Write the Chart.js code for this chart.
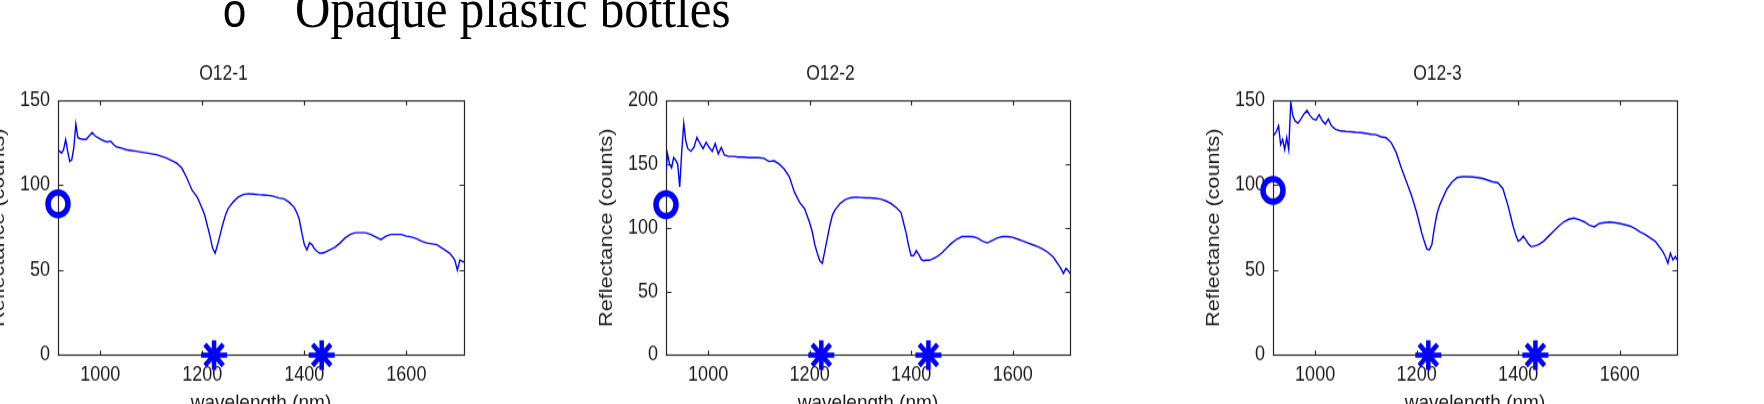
<!DOCTYPE html>
<html>
<head>
<title>Opaque plastic bottles</title>
<script src="https://cdn.jsdelivr.net/npm/chart.js"></script>
<style>
html, body { margin: 0; padding: 0; background: #fff; overflow: hidden; width: 1764px; height: 404px; }
#page { position: absolute; left: 0; top: 0; width: 1764px; height: 380px; transform: scaleY(1.14); transform-origin: 0 0; }
.heading { position: absolute; top: -18px; left: 295px; font-family: "Liberation Serif", serif; font-size: 49px; line-height: 52px; color: #000; white-space: nowrap; }
.bullet { position: absolute; top: -12.6px; left: 222px; font-family: "Liberation Mono", monospace; font-size: 42px; line-height: 52px; color: #000; }
canvas { position: absolute; top: 36px; }
</style>
</head>
<body>
<div id="page">
  <span class="bullet">o</span>
  <span class="heading">Opaque plastic bottles</span>
  <canvas id="c1" width="506" height="340" style="left:-17px"></canvas>
  <canvas id="c2" width="506" height="340" style="left:591px"></canvas>
  <canvas id="c3" width="506" height="340" style="left:1198px"></canvas>
</div>

<script>
// wavelength grid (nm) shared by the three spectra
const wavelength = [
  917,920,924,928,932,936,940,944,948,952,956,960,
  966,972,978,984,990,996,1002,1008,1014,1020,1026,1032,
  1040,
  1050,1060,1070,1080,1090,1100,1110,1120,1130,1140,1150,1160,1170,1180,1190,1200,
  1205,1210,1215,1220,1225,1230,1235,1240,1245,1250,
  1260,1270,1280,1290,1300,1310,1320,1330,1340,1350,1360,1370,1380,
  1385,1390,1395,1400,1405,1410,1415,1420,1425,1430,1435,1440,
  1450,1460,1470,1480,1490,1500,1510,1520,1530,1540,1550,1560,1570,1580,1590,1600,1610,1620,1630,1640,1650,1660,1670,1680,
  1685,1690,1695,1700,1705,1710,1713
];

const o12_1 = [
  121,120,119,121,127,120,114,115,122,136,128,127.5,
  127,127,129,131,129,128,127,126,125.5,126,124,122.5,
  122,
  121,120.5,120,119.5,119,118.5,118,117,116,114.5,113,110,104,97,93,86,
  82,76,70,63,60,65,71,77,82,86,
  90,93,94.5,95,94.8,94.5,94.3,94,93.5,92.5,92,90,87,
  84,80,72,65,62,66,65,62.5,61,60,60,60.5,
  62,63.5,66,69,71,72,72,72,71,69.5,68,70,71,71,71,70,69.5,68.5,67,66,65.5,65,63,61,
  60,58,56,50,56,55,55
];

const o12_2 = [
  145,158,150,147,155,153,150,132,160,182,168,162,
  160,163,171,166,162,167,163,160,166,158,163,157,
  156,
  156,155.5,155.5,155,155,155,154.5,152,152.5,150,146,140,128,120,115,104,
  97,87,80,74,72,82,92,102,110,114,
  119,122,123.5,124,123.8,123.5,123.5,123,122.5,121,119,116,112,
  104,96,86,78,78,82,79,75,74,74.5,74.5,75,
  77,80,84,88,91,93,93,93,92,89.5,88,90,92,93,93,92.5,91,89.5,88,86.5,85,83,80.5,77,
  74,71,68,64,68,66,64
];

const o12_3 = [
  129,130,132,135,124,127,121,128,121,149,141,138,
  136.5,139,142,144,141,139,138.5,141.5,138,136,139,135,
  133,
  132,131.7,131.5,131.2,131,130.5,130,129.8,128.5,128,125,119,110,102,94,84,
  78,72,67,62.5,62,65,75,83,88,91.5,
  98,102,104.5,105,105,104.8,104.5,104,103,102,101.5,98,88,
  82,76,71,67,68,70,68,65.5,64,64,64.5,65,
  67,70,73,76,78.5,80,80.7,79.7,78.5,76.5,75.5,77.5,78,78.3,78,77.5,76.8,76,74.5,72.5,71,69,67,63,
  61,58,54,60,56,58,56
];

const panelTitles = ['O12-1', 'O12-2', 'O12-3'];
const circleLevels = [89, 118, 97];       // 'o' marker at the first wavelength
const starWavelengths = [1223, 1434];     // '*' markers on the zero line
const yMaxes = [150, 200, 150];
const xTickValues = [1000, 1200, 1400, 1600];
const xMin = 917, xMax = 1713;

const BLUE = '#0000ff';
const INK = '#1a1a1a';
const SANS = "'Liberation Sans', Arial, sans-serif";

// matlab style box with inward ticks
const matlabBox = {
  id: 'matlabBox',
  beforeDatasetsDraw(chart) {
    const {ctx, chartArea: a, scales: {x, y}} = chart;
    const L = Math.round(a.left) + 0.5, R = Math.round(a.right) + 0.5;
    const T = Math.round(a.top) + 0.5, B = Math.round(a.bottom) + 0.5;
    ctx.save();
    ctx.strokeStyle = '#262626';
    ctx.lineWidth = 1.2;
    ctx.strokeRect(L, T, R - L, B - T);
    ctx.beginPath();
    x.ticks.forEach(t => {
      const px = Math.round(x.getPixelForValue(t.value)) + 0.5;
      ctx.moveTo(px, B); ctx.lineTo(px, B - 4);
      ctx.moveTo(px, T); ctx.lineTo(px, T + 4);
    });
    y.ticks.forEach(t => {
      const py = Math.round(y.getPixelForValue(t.value)) + 0.5;
      ctx.moveTo(L, py); ctx.lineTo(L + 5, py);
      ctx.moveTo(R, py); ctx.lineTo(R - 5, py);
    });
    ctx.stroke();
    ctx.restore();
  }
};

function makePanel(id, i, values, padRight) {
  const spectrum = wavelength.map((w, k) => ({x: w, y: values[k]}));
  new Chart(document.getElementById(id), {
    type: 'line',
    data: {
      datasets: [
        {data: spectrum, borderColor: BLUE, borderWidth: 1.4, pointRadius: 0, tension: 0},
        {data: [{x: xMin, y: circleLevels[i]}], showLine: false, pointStyle: 'circle',
         pointRadius: 10, borderWidth: 5.5, borderColor: BLUE, backgroundColor: 'rgba(0,0,0,0)', clip: false},
        {data: starWavelengths.map(w => ({x: w, y: 0})), showLine: false, pointStyle: 'star',
         pointRadius: 13, borderWidth: 4.5, borderColor: BLUE, backgroundColor: BLUE, clip: false}
      ]
    },
    options: {
      responsive: false,
      animation: false,
      events: [],
      layout: {padding: {left: 0, top: 0, bottom: 0, right: padRight}, autoPadding: false},
      plugins: {
        legend: {display: false},
        tooltip: {enabled: false},
        title: {
          display: true, text: panelTitles[i], color: INK,
          font: {family: SANS, size: 17.5, weight: 'normal'},
          padding: {top: 19, bottom: 12}
        }
      },
      scales: {
        x: {
          type: 'linear', min: xMin, max: xMax,
          grid: {display: false, drawTicks: false},
          border: {display: false},
          afterBuildTicks: s => { s.ticks = xTickValues.map(v => ({value: v})); },
          afterFit: s => { s.height = 64.6; },
          ticks: {color: INK, font: {family: SANS, size: 18}, padding: 6.8, maxRotation: 0, autoSkip: false,
                  callback: v => String(v)},
          title: {display: true, text: 'wavelength (nm)', color: INK,
                  font: {family: SANS, size: 19}, padding: {top: 0, bottom: 11}}
        },
        y: {
          min: 0, max: yMaxes[i],
          grid: {display: false, drawTicks: false},
          border: {display: false},
          afterFit: s => { s.width = 75; },
          ticks: {stepSize: 50, color: INK, font: {family: SANS, size: 18}, padding: 8,
                  callback: v => String(v)},
          title: {display: true, text: 'Reflectance (counts)', color: INK,
                  font: {family: SANS, size: 19}, padding: {top: 4.6, bottom: 0}}
        }
      }
    },
    plugins: [matlabBox]
  });
}

makePanel('c1', 0, o12_1, 25);
makePanel('c2', 1, o12_2, 27);
makePanel('c3', 2, o12_3, 27);
</script>
</body>
</html>
